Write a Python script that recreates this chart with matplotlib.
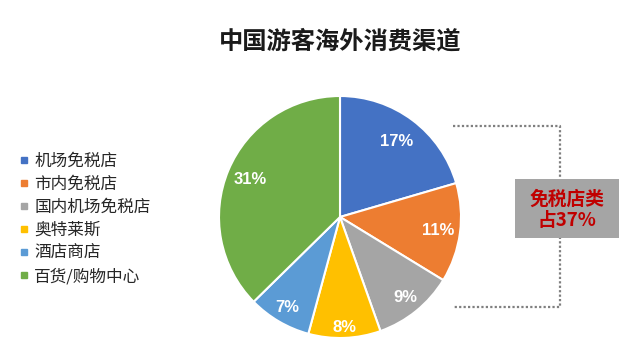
import matplotlib
matplotlib.use("Agg")
import matplotlib.pyplot as plt
from matplotlib.lines import Line2D
from matplotlib.patches import Rectangle
import numpy as np

plt.rcParams['font.family'] = ['Noto Sans CJK SC', 'DejaVu Sans']

title = "中国游客海外消费渠道"
categories = ["机场免税店", "市内免税店", "国内机场免税店", "奥特莱斯", "酒店商店", "百货/购物中心"]
values = [17, 11, 9, 8, 7, 31]
colors = ["#4472C4", "#ED7D31", "#A5A5A5", "#FFC000", "#5B9BD5", "#70AD47"]
label_dist = [0.78, 0.82, 0.86, 0.91, 0.87, 0.80]
callout = "免税店类\n占37%"

W, H = 640, 357
fig = plt.figure(figsize=(W / 100, H / 100), dpi=100)

# pie axes
cx, cy, R = 340, 217, 121
lim = 1.3
ax = fig.add_axes([(cx - R * lim) / W, (H - cy - R * lim) / H, 2 * R * lim / W, 2 * R * lim / H])
wedges, _ = ax.pie(values, colors=colors, startangle=90, counterclock=False,
                   wedgeprops=dict(edgecolor="white", linewidth=1.5))
ax.set_xlim(-lim, lim)
ax.set_ylim(-lim, lim)
ax.set_aspect("equal")
ax.axis("off")
for w, v, d in zip(wedges, values, label_dist):
    ang = np.deg2rad((w.theta1 + w.theta2) / 2)
    ax.text(d * np.cos(ang), d * np.sin(ang), f"{v}%", ha="center", va="center",
            color="white", fontsize=12, fontweight="bold",
            family=["Liberation Sans", "DejaVu Sans"])

# overlay in pixel coords
ov = fig.add_axes([0, 0, 1, 1], facecolor="none")
ov.set_xlim(0, W)
ov.set_ylim(H, 0)
ov.axis("off")

ov.text(340, 41, title, ha="center", va="center", fontsize=17.5, fontweight="bold", color="#1a1a1a")

# bracket
ov.plot([453, 560, 560, 453], [126, 126, 307, 307], color="#7f7f7f", lw=1.6,
        linestyle=(0, (1, 1)))
ov.add_patch(Rectangle((515, 179), 104, 59, facecolor="#A5A5A5", edgecolor="none", zorder=3))
ov.text(567, 210, callout, ha="center", va="center", fontsize=13.5, fontweight="bold",
        color="#C00000", linespacing=1.2, zorder=4)

# legend
handles = [Line2D([], [], marker="s", linestyle="none", color=c, markersize=4.5) for c in colors]
leg = fig.legend(handles, categories, loc="upper left", bbox_to_anchor=(11 / W, 1 - 144 / H),
                 frameon=False, fontsize=12, handlelength=0.5, handletextpad=0.4,
                 labelspacing=0.37, borderpad=0)
for t in leg.get_texts():
    t.set_color("#262626")

fig.savefig("out.png", dpi=100)
